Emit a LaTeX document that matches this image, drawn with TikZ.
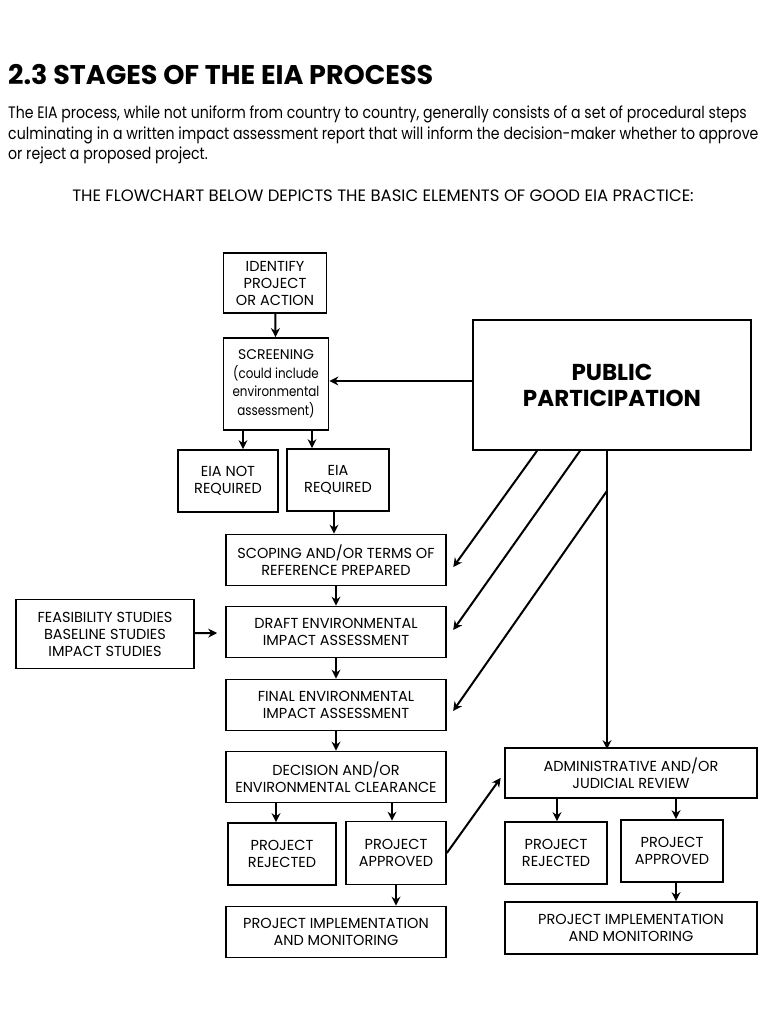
\documentclass[tikz,border=0pt]{standalone}
\usepackage{fontspec}
\setmainfont{Poppins}
\newfontfamily\narrowfont[FakeStretch=0.85]{Poppins}
\usetikzlibrary{arrows.meta}
\usetikzlibrary{calc}
\usetikzlibrary{positioning}

\begin{document}
\begin{tikzpicture}
    [   x = 1pt, y = -1pt
    ,   > = {Stealth[length=9pt,width=9pt]}
    ,   stage/.style = {draw, line width = 1.7pt, align = center, inner sep = 0pt,
                        font = \fontsize{14.5}{17}\selectfont}
    ,   link/.style = {->, line width = 2pt}
    ]
    \useasboundingbox[fill = white] (0,0) rectangle (768,1024);

    % heading and introduction
    \node[anchor = west, inner sep = 0pt, font = \bfseries\fontsize{27}{30}\selectfont]
        (title) at (8,75) {2.3 STAGES OF THE EIA PROCESS};
    \node[anchor = north west, inner sep = 0pt, align = left, font = \narrowfont\fontsize{16.6}{20.5}\selectfont]
        (intro) at (8,106) {The EIA process, while not uniform from country to country, generally consists of a set of procedural steps\\
        culminating in a written impact assessment report that will inform the decision-maker whether to approve\\
        or reject a proposed project.};
    \node[inner sep = 0pt, font = \fontsize{16.5}{18}\selectfont]
        (caption) at (383,196) {THE FLOWCHART BELOW DEPICTS THE BASIC ELEMENTS OF GOOD EIA PRACTICE:};

    % main column
    \node[stage, minimum width = 103pt, minimum height = 60pt] (identify) at (275,283) {IDENTIFY\\PROJECT\\OR ACTION};
    \node[stage, minimum width = 105pt, minimum height = 92pt, font = \narrowfont\fontsize{14}{18.5}\selectfont]
        (screening) at (276,384) {{\rmfamily\fontsize{14}{18.5}\selectfont SCREENING}\\(could include\\environmental\\assessment)};
    \node[stage, minimum width = 100pt, minimum height = 62pt] (notreq) at (228,481) {EIA NOT\\REQUIRED};
    \node[stage, minimum width = 102pt, minimum height = 62pt] (req) at (338,480) {EIA\\REQUIRED};
    \node[stage, minimum width = 220pt, minimum height = 51pt] (scoping) at (336,560)
        {SCOPING AND/OR TERMS OF\\REFERENCE PREPARED};
    \node[stage, minimum width = 220pt, minimum height = 51pt] (draft) at (336,632)
        {DRAFT ENVIRONMENTAL\\IMPACT ASSESSMENT};
    \node[stage, minimum width = 178pt, minimum height = 69pt] (studies) at (105,634)
        {FEASIBILITY STUDIES\\BASELINE STUDIES\\IMPACT STUDIES};
    \node[stage, minimum width = 220pt, minimum height = 51pt] (final) at (336,705)
        {FINAL ENVIRONMENTAL\\IMPACT ASSESSMENT};
    \node[stage, minimum width = 220pt, minimum height = 51pt] (decision) at (336,777)
        {DECISION AND/OR\\ENVIRONMENTAL CLEARANCE};
    \node[stage, minimum width = 108pt, minimum height = 62pt] (rejectA) at (282,854) {PROJECT\\REJECTED};
    \node[stage, minimum width = 100pt, minimum height = 63pt] (approveA) at (396,853) {PROJECT\\APPROVED};
    \node[stage, minimum width = 220pt, minimum height = 51pt] (implA) at (336,932)
        {PROJECT IMPLEMENTATION\\AND MONITORING};

    % public participation and review
    \node[stage, minimum width = 278pt, minimum height = 130pt, font = \bfseries\fontsize{23}{26}\selectfont]
        (public) at (612,385) {PUBLIC\\PARTICIPATION};
    \node[stage, minimum width = 252pt, minimum height = 50pt] (review) at (631,773)
        {ADMINISTRATIVE AND/OR\\JUDICIAL REVIEW};
    \node[stage, minimum width = 102pt, minimum height = 62pt] (rejectB) at (556,853) {PROJECT\\REJECTED};
    \node[stage, minimum width = 102pt, minimum height = 62pt] (approveB) at (672,851) {PROJECT\\APPROVED};
    \node[stage, minimum width = 252pt, minimum height = 52pt] (implB) at (631,928)
        {PROJECT IMPLEMENTATION\\AND MONITORING};

    % connectors
    \draw[link] (identify) -- (screening);
    \draw[link] (public.west |- screening.east) ++(0,-3) -- ([yshift=3pt]screening.east);
    \draw[link] ([xshift=-33pt]screening.south) -- ([xshift=-33pt]screening.south |- notreq.north);
    \draw[link] ([xshift=36pt]screening.south) -- ([xshift=36pt]screening.south |- req.north);
    \draw[link] ([xshift=-4pt]req.south) -- ([xshift=-4pt]req.south |- scoping.north);
    \draw[link] (scoping) -- (draft);
    \draw[link] (draft) -- (final);
    \draw[link] (final) -- (decision);
    \draw[link, shorten > = 8pt] (studies) -- (draft);
    \draw[link] ([xshift=-60pt]decision.south) -- ([xshift=-60pt]decision.south |- rejectA.north);
    \draw[link] ([xshift=56pt]decision.south) -- ([xshift=56pt]decision.south |- approveA.north);
    \draw[link] (approveA) -- (approveA |- implA.north);
    \draw[link, shorten > = 6pt] (approveA.east) -- (review.west);

    \coordinate (pp1) at ([xshift=-75pt]public.south);
    \coordinate (pp2) at ([xshift=-32pt]public.south);
    \coordinate (pp3) at ([xshift=-5pt]public.south);
    \coordinate (pp4) at ($(pp3)+(0,40)$);
    \draw[link, shorten > = 11pt] (pp1) -- ([yshift=-16pt]scoping.east);
    \draw[link, shorten > = 11pt] (pp2) -- ([yshift=-7pt]draft.east);
    \draw[link] (pp3) -- ([yshift=-2pt]pp3 |- review.north);
    \draw[link, shorten > = 11pt] (pp4) -- ([yshift=-15pt]final.east);

    \draw[link] ([xshift=-74pt]review.south) -- ([xshift=-74pt]review.south |- rejectB.north);
    \draw[link] ([xshift=45pt]review.south) -- ([xshift=45pt]review.south |- approveB.north);
    \draw[link] ([xshift=4pt]approveB.south) -- ([xshift=4pt]approveB.south |- implB.north);
\end{tikzpicture}
\end{document}
